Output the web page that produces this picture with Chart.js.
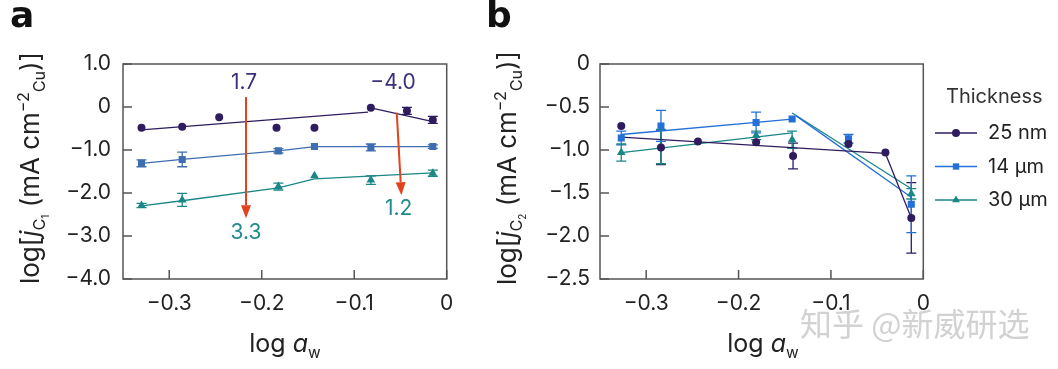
<!DOCTYPE html>
<html>
<head>
<meta charset="utf-8">
<script src="https://cdn.jsdelivr.net/npm/chart.js@4.4.1/dist/chart.umd.min.js"></script>
<style>
  body { margin: 0; width: 1058px; height: 369px; background: #fff; position: relative; overflow: hidden; font-family: Inter, sans-serif; color: #222; }
  canvas { position: absolute; top: 0; }
  .t { position: absolute; white-space: nowrap; }
  .panel { font-size: 36px; font-weight: 800; font-family: "DejaVu Sans", sans-serif; color: #111; }
  .ytitle { font-size: 26px; transform: translate(-50%, -50%) rotate(-90deg); }
  .xtitle { font-size: 25px; transform: translate(-50%, -50%); }
  sub, sup { font-size: 62%; }
  .wm { font-family: "Noto Sans CJK SC", sans-serif; font-size: 32px; color: #d2d2d2; }
</style>
</head>
<body>
<canvas id="chartA" style="left:0" width="470" height="369"></canvas>
<canvas id="chartB" style="left:470px" width="588" height="369"></canvas>

<div class="t panel" style="left:10px;top:-6px">a</div>
<div class="t panel" style="left:486px;top:-6px">b</div>
<div class="t ytitle" style="left:32px;top:168px">log[<i>j</i><sub>C<sub>1</sub></sub> (mA cm<sup>−2</sup><sub>Cu</sub>)]</div>
<div class="t ytitle" style="left:509px;top:168px">log[<i>j</i><sub>C<sub>2</sub></sub> (mA cm<sup>−2</sup><sub>Cu</sub>)]</div>
<div class="t xtitle" style="left:285px;top:345px">log <i>a</i><sub>w</sub></div>
<div class="t xtitle" style="left:763px;top:345px">log <i>a</i><sub>w</sub></div>
<div class="t wm" style="left:800px;top:299px">知乎 @新威研选</div>

<script>
// ---- panel a data ----
const aX25 = [-0.330, -0.286, -0.246, -0.184, -0.143, -0.082, -0.043, -0.015];
const aY25 = [-0.48, -0.46, -0.24, -0.48, -0.48, -0.02, -0.09, -0.30];
const aE25 = [0, 0, 0, 0, 0, 0, 0.08, 0.08];
const aX14 = [-0.330, -0.286, -0.182, -0.143, -0.082, -0.015];
const aY14 = [-1.31, -1.22, -1.02, -0.92, -0.94, -0.92];
const aE14 = [0.08, 0.17, 0.05, 0, 0.08, 0.04];
const aX30 = [-0.330, -0.286, -0.182, -0.143, -0.082, -0.015];
const aY30 = [-2.29, -2.16, -1.85, -1.60, -1.70, -1.54];
const aE30 = [0.05, 0.15, 0.08, 0, 0.1, 0.07];
// fitted lines, panel a
const aFit25a = [[-0.330, -0.53], [-0.085, -0.12]];
const aFit25b = [[-0.082, -0.02], [-0.015, -0.34]];
const aFit14 = [[-0.330, -1.31], [-0.286, -1.22], [-0.182, -1.02], [-0.143, -0.92], [-0.015, -0.92]];
const aFit30 = [[-0.330, -2.30], [-0.286, -2.18], [-0.182, -1.88], [-0.143, -1.67], [-0.015, -1.53]];
// arrows and slope labels, panel a
const aArrows = [[-0.217, 0.23, -0.217, -2.59], [-0.054, -0.13, -0.049, -2.05]];
const aNotes = [['1.7', -0.219, 0.56, 'p'], ['−4.0', -0.058, 0.56, 'p'], ['3.3', -0.217, -2.93, 't'], ['1.2', -0.052, -2.37, 't']];

// ---- panel b data ----
const bX25 = [-0.327, -0.284, -0.244, -0.181, -0.141, -0.081, -0.041, -0.013];
const bY25 = [-0.72, -0.97, -0.90, -0.91, -1.07, -0.93, -1.03, -1.79];
const bE25 = [0, 0.2, 0, 0, 0.15, 0, 0, 0.41];
const bX14 = [-0.327, -0.284, -0.181, -0.142, -0.081, -0.013];
const bY14 = [-0.86, -0.72, -0.68, -0.64, -0.87, -1.63];
const bE14 = [0.08, 0.18, 0.12, 0, 0.05, 0.33];
const bX30 = [-0.327, -0.284, -0.181, -0.142, -0.081, -0.013];
const bY30 = [-1.03, -0.96, -0.83, -0.88, -0.89, -1.51];
const bE30 = [0.1, 0.2, 0.05, 0.1, 0, 0.06];
const bFit25a = [[-0.327, -0.85], [-0.041, -1.04]];
const bFit25b = [[-0.041, -1.04], [-0.013, -1.79]];
const bFit14a = [[-0.327, -0.82], [-0.142, -0.64]];
const bFit14b = [[-0.138, -0.60], [-0.013, -1.55]];
const bFit30a = [[-0.327, -1.03], [-0.142, -0.80]];
const bFit30b = [[-0.142, -0.57], [-0.013, -1.45]];

const xTicks = [-0.3, -0.2, -0.1, 0];
const aYTicks = [1, 0, -1, -2, -3, -4];
const bYTicks = [0, -0.5, -1, -1.5, -2, -2.5];
const legendLabels = ['25 nm', '14 µm', '30 µm'];

const purple = '#2e1c5f';
const blueA = '#3e6db0';
const blueB = '#2470d8';
const teal = '#1a8686';
const red = '#e2421c';
const FONT = 'Inter, sans-serif';

const pts = (xs, ys) => xs.map((x, i) => ({ x: x, y: ys[i] }));
const fit = (arr) => arr.map(p => ({ x: p[0], y: p[1] }));
const minus = (v) => {
  if (v === 0) return '0';
  const s = Math.abs(v).toFixed(1);
  return v < 0 ? '−' + s : s;
};

function lineSet(data, color) {
  return { data: data, showLine: true, borderColor: color, borderWidth: 1.3, pointRadius: 0, fill: false, order: 2 };
}
function pointSet(data, color, style, r, errs) {
  return { data: data, showLine: false, pointStyle: style, pointRadius: r, pointBackgroundColor: color,
    pointBorderColor: color, pointBorderWidth: 0, errors: errs, errColor: color, order: 1 };
}

// box, inward ticks
const framePlugin = {
  id: 'frame',
  afterDraw(chart) {
    const { ctx, chartArea: { left, top, right, bottom }, scales: { x, y } } = chart;
    ctx.save();
    ctx.strokeStyle = '#555';
    ctx.lineWidth = 1.5;
    ctx.strokeRect(left, top, right - left, bottom - top);
    ctx.beginPath();
    x.ticks.forEach(t => {
      const px = x.getPixelForValue(t.value);
      ctx.moveTo(px, bottom); ctx.lineTo(px, bottom - 9);
    });
    y.ticks.forEach(t => {
      const py = y.getPixelForValue(t.value);
      ctx.moveTo(left, py); ctx.lineTo(left + 9, py);
    });
    ctx.stroke();
    ctx.restore();
  }
};

const errorBars = {
  id: 'errorBars',
  beforeDatasetsDraw(chart) {
    const { ctx, scales: { x, y } } = chart;
    ctx.save();
    ctx.lineWidth = 1.3;
    chart.data.datasets.forEach(ds => {
      if (!ds.errors) return;
      ctx.strokeStyle = ds.errColor;
      ds.data.forEach((p, i) => {
        const e = ds.errors[i];
        if (!e) return;
        const px = x.getPixelForValue(p.x);
        const y1 = y.getPixelForValue(p.y + e);
        const y2 = y.getPixelForValue(p.y - e);
        ctx.beginPath();
        ctx.moveTo(px, y1); ctx.lineTo(px, y2);
        ctx.moveTo(px - 5, y1); ctx.lineTo(px + 5, y1);
        ctx.moveTo(px - 5, y2); ctx.lineTo(px + 5, y2);
        ctx.stroke();
      });
    });
    ctx.restore();
  }
};

const arrowsPlugin = {
  id: 'arrows',
  afterDatasetsDraw(chart) {
    const { ctx, scales: { x, y } } = chart;
    ctx.save();
    ctx.strokeStyle = red;
    ctx.fillStyle = red;
    ctx.lineWidth = 2;
    aArrows.forEach(a => {
      const x0 = x.getPixelForValue(a[0]), y0 = y.getPixelForValue(a[1]);
      const x1 = x.getPixelForValue(a[2]), y1 = y.getPixelForValue(a[3]);
      const ang = Math.atan2(y1 - y0, x1 - x0);
      const hl = 13, hw = 5;
      const bx = x1 - hl * Math.cos(ang), by = y1 - hl * Math.sin(ang);
      ctx.beginPath();
      ctx.moveTo(x0, y0); ctx.lineTo(bx, by);
      ctx.stroke();
      ctx.beginPath();
      ctx.moveTo(x1, y1);
      ctx.lineTo(bx + hw * Math.sin(ang), by - hw * Math.cos(ang));
      ctx.lineTo(bx - hw * Math.sin(ang), by + hw * Math.cos(ang));
      ctx.closePath();
      ctx.fill();
    });
    ctx.font = '21px ' + FONT;
    ctx.textAlign = 'center';
    ctx.textBaseline = 'middle';
    aNotes.forEach(n => {
      ctx.fillStyle = n[3] === 'p' ? '#3d2f7c' : '#1f8a8a';
      ctx.fillText(n[0], x.getPixelForValue(n[1]), y.getPixelForValue(n[2]));
    });
    ctx.restore();
  }
};

const legendPlugin = {
  id: 'sideLegend',
  afterDraw(chart) {
    const { ctx } = chart;
    const left = 935 - 470;
    ctx.save();
    ctx.font = '20px ' + FONT;
    ctx.fillStyle = '#333';
    ctx.textBaseline = 'middle';
    ctx.fillText('Thickness', 946 - 470, 97);
    const cols = [purple, blueB, teal];
    const styles = ['circle', 'rect', 'triangle'];
    const radii = [4, 4.5, 4.5];
    legendLabels.forEach((lab, i) => {
      const yy = 133 + i * 33.5;
      ctx.strokeStyle = cols[i];
      ctx.lineWidth = 1.3;
      ctx.beginPath();
      ctx.moveTo(left, yy); ctx.lineTo(left + 42, yy);
      ctx.stroke();
      ctx.fillStyle = cols[i];
      Chart.helpers.drawPoint(ctx, { pointStyle: styles[i], radius: radii[i], borderWidth: 0 }, left + 21, yy);
      ctx.fillStyle = '#222';
      ctx.fillText(lab, 988 - 470, yy);
    });
    ctx.restore();
  }
};

function scalesFor(yMin, yMax, yTicks, yWidth, yPad) {
  return {
    x: {
      type: 'linear', min: -0.35, max: 0,
      grid: { display: false, drawTicks: false },
      border: { display: false },
      afterBuildTicks: s => { s.ticks = xTicks.map(v => ({ value: v })); },
      afterFit: s => { s.height = 40; },
      ticks: { padding: 12, color: '#222', font: { family: FONT, size: 21 }, callback: v => minus(v), maxRotation: 0 }
    },
    y: {
      type: 'linear', min: yMin, max: yMax,
      grid: { display: false, drawTicks: false },
      border: { display: false },
      afterBuildTicks: s => { s.ticks = yTicks.map(v => ({ value: v })); },
      afterFit: s => { s.width = yWidth; },
      ticks: { padding: yPad, color: '#222', font: { family: FONT, size: 21 }, callback: v => minus(v) }
    }
  };
}

const common = {
  responsive: false,
  animation: false,
  plugins: { legend: { display: false }, tooltip: { enabled: false } }
};

new Chart(document.getElementById('chartA'), {
  type: 'scatter',
  data: {
    datasets: [
      lineSet(fit(aFit25a), purple),
      lineSet(fit(aFit25b), purple),
      lineSet(fit(aFit14), blueA),
      lineSet(fit(aFit30), teal),
      pointSet(pts(aX25, aY25), purple, 'circle', 4, aE25),
      pointSet(pts(aX14, aY14), blueA, 'rect', 5, aE14),
      pointSet(pts(aX30, aY30), teal, 'triangle', 5, aE30)
    ]
  },
  options: Object.assign({}, common, {
    layout: { padding: { left: 63, top: 64, right: 23.3, bottom: 50 } },
    scales: scalesFor(-4, 1, aYTicks, 60, 12)
  }),
  plugins: [errorBars, framePlugin, arrowsPlugin]
});

new Chart(document.getElementById('chartB'), {
  type: 'scatter',
  data: {
    datasets: [
      lineSet(fit(bFit25a), purple),
      lineSet(fit(bFit25b), purple),
      lineSet(fit(bFit14a), blueB),
      lineSet(fit(bFit14b), blueB),
      lineSet(fit(bFit30a), teal),
      lineSet(fit(bFit30b), teal),
      pointSet(pts(bX25, bY25), purple, 'circle', 4, bE25),
      pointSet(pts(bX14, bY14), blueB, 'rect', 5, bE14),
      pointSet(pts(bX30, bY30), teal, 'triangle', 5, bE30)
    ]
  },
  options: Object.assign({}, common, {
    layout: { padding: { left: 70, top: 64, right: 134.7, bottom: 50 } },
    scales: scalesFor(-2.5, 0, bYTicks, 60, 10)
  }),
  plugins: [errorBars, framePlugin, legendPlugin]
});
</script>
</body>
</html>
